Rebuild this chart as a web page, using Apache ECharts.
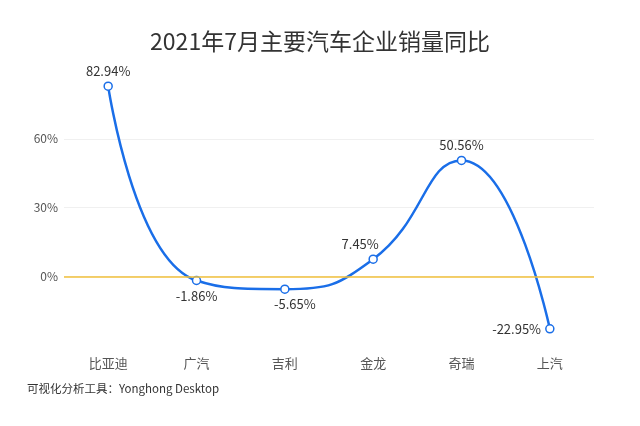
<!DOCTYPE html>
<html>
<head>
<meta charset="utf-8">
<script src="https://cdn.jsdelivr.net/npm/echarts@6/dist/echarts.min.js"></script>
<style>
  html, body { margin: 0; padding: 0; background: #fff; }
  #main { width: 640px; height: 426px; }
</style>
</head>
<body>
<div id="main"></div>
<script>
// 数据
let categories = ['比亚迪', '广汽', '吉利', '金龙', '奇瑞', '上汽'];
let values = [82.94, -1.86, -5.65, 7.45, 50.56, -22.95];
// 每个点的标签位置
let labelPos = ['top', 'bottom', 'bottom', 'top', 'top', 'left'];
let labelOffset = [[0, 0], [0, 0], [10, 0], [-13, 0], [0, 0], [0, 0]];

let chartDom = document.getElementById('main');
let myChart = echarts.init(chartDom);
let option;

let seriesData = values.map(function (v, i) {
  return {
    value: v,
    label: { position: labelPos[i], offset: labelOffset[i] }
  };
});

option = {
  backgroundColor: '#fff',
  textStyle: { fontFamily: '"Noto Sans CJK SC", "Noto Sans", sans-serif' },
  title: {
    text: '2021年7月主要汽车企业销量同比',
    left: 'center',
    top: 25,
    textStyle: { fontSize: 23, fontWeight: 'normal', color: '#333' }
  },
  graphic: [
    {
      type: 'text',
      left: 27,
      top: 383,
      style: {
        text: '可视化分析工具：Yonghong Desktop',
        fontSize: 11.5,
        fill: '#333',
        fontFamily: '"Noto Sans CJK SC", sans-serif'
      }
    }
  ],
  grid: {
    left: 64,
    right: 46,
    top: 70,
    bottom: 81
  },
  xAxis: {
    type: 'category',
    data: categories,
    boundaryGap: true,
    axisLine: { show: false },
    axisTick: { show: false },
    axisLabel: { color: '#555', fontSize: 13, margin: 12 }
  },
  yAxis: {
    type: 'value',
    min: -30,
    max: 90,
    interval: 30,
    axisLine: { show: false },
    axisTick: { show: false },
    axisLabel: {
      color: '#555',
      fontSize: 12,
      margin: 6,
      formatter: function (v) {
        return (v === -30 || v === 90) ? '' : v + '%';
      }
    },
    splitLine: {
      lineStyle: {
        color: ['transparent', '#f0f0f0', '#f0f0f0', '#f0f0f0', 'transparent'],
        width: 1
      }
    }
  },
  series: [
    {
      type: 'line',
      data: seriesData,
      smooth: 0.5,
      symbol: 'circle',
      symbolSize: 8,
      lineStyle: { color: '#1a6ee8', width: 2.5 },
      itemStyle: { color: '#fff', borderColor: '#1a6ee8', borderWidth: 1.5 },
      label: {
        show: true,
        color: '#333',
        fontSize: 13,
        distance: 4,
        formatter: function (p) {
          return p.value.toFixed(2) + '%';
        }
      },
      markLine: {
        silent: true,
        symbol: 'none',
        label: { show: false },
        lineStyle: { color: '#f2c13b', type: 'solid', width: 1.5 },
        data: [{ yAxis: 0 }]
      },
      z: 3
    }
  ]
};

option && myChart.setOption(option);
</script>
</body>
</html>
